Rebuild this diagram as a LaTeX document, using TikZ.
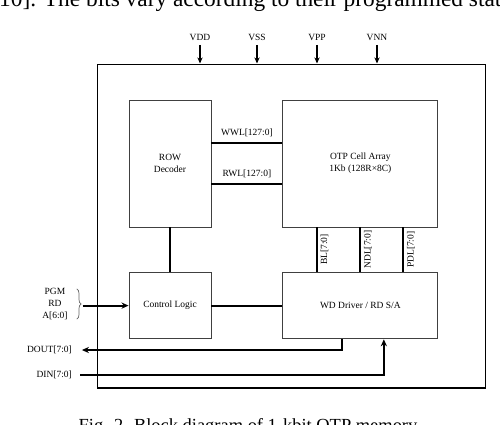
\documentclass[tikz,border=0pt]{standalone}
\usepackage{fontspec}
\setmainfont{Liberation Serif}
\usetikzlibrary{arrows.meta,positioning,calc,decorations.pathreplacing}

\newcommand{\blockfont}{\fontsize{5.4}{6.8}\selectfont}
\newcommand{\pagefont}{\fontsize{10.5}{12}\selectfont}
\newcommand{\bodyfont}{\fontsize{13.3}{16}\selectfont}

\begin{document}
\begin{tikzpicture}[x=0.02cm, y=-0.02cm,
			chip/.style={rectangle, draw, line width=0.6pt, minimum width=7.76cm, minimum height=6.48cm},
			block/.style={rectangle, draw=black!75, line width=0.5pt, minimum height=2.54cm, align=center, font=\blockfont},
			ctlblock/.style={rectangle, draw=black!75, line width=0.5pt, minimum height=1.33cm, align=center, font=\blockfont},
			pin/.style={font=\blockfont, inner sep=1pt},
			bus/.style={line width=1.2pt},
			supply/.style={line width=0.7pt, -{Stealth[length=3.5pt,width=3pt]}},
			tip/.style={-{Stealth[length=4pt,width=3.5pt]}},
			brace/.style={draw=black!60, line width=0.4pt, decorate, decoration={brace, amplitude=2.5pt}}
		]
		\useasboundingbox (0,0) rectangle (500,424);
		\clip (0,0) rectangle (500,424);

		% page text
		\node[anchor=base west, font=\bodyfont, inner sep=0pt] (prev) at (-9,6) {[10]. The bits vary according to their programmed states.};
		\node[anchor=base, font=\pagefont, inner sep=0pt] (cap) at (248,431) {Fig. 2. Block diagram of 1-kbit OTP memory};

		% chip outline
		\node[chip] (chip) at (291.5,226) {};

		% blocks
		\node[block, minimum width=1.64cm] (row) at (170,163.5) {ROW\\Decoder};
		\node[block, minimum width=3.1cm, right=1.42cm of row] (otp) {OTP Cell Array\\1Kb (128R×8C)};
		\node[ctlblock, minimum width=1.64cm, below=0.89cm of row] (ctrl) {Control Logic};
		\node[ctlblock, minimum width=3.1cm, below=0.89cm of otp] (wd) {WD Driver / RD S/A};

		% supplies
		\foreach \px/\name in {200/VDD, 257/VSS, 317/VPP, 377/VNN} {
			\node[pin] (\name) at (\px,37) {\name};
			\draw[supply, shorten <=1.5pt] (\name.south) -- (\name.south |- chip.north);
		}

		% word lines
		\path (row.north east) ++(0,43) coordinate (wwl);
		\path (row.north east) ++(0,84) coordinate (rwl);
		\draw[bus] (wwl) -- (wwl -| otp.west) node[pin, midway, above=1.5pt] {WWL[127:0]};
		\draw[bus] (rwl) -- (rwl -| otp.west) node[pin, midway, above=1.5pt] {RWL[127:0]};

		% bit lines
		\foreach \dx/\lab in {-43.5/BL[7:0], 0/NDL[7:0], 43/PDL[7:0]} {
			\draw[bus] ($(otp.south)+(\dx,0)$) -- ($(wd.north)+(\dx,0)$)
				node[pin, midway, anchor=north, rotate=90, yshift=-0.5pt] {\lab};
		}

		% control
		\draw[bus] (row) -- (ctrl);
		\draw[bus] (ctrl) -- (wd);

		% inputs
		\node[pin, align=center] (ins) at (55,304) {PGM\\RD\\A[6:0]};
		\draw[brace] ([xshift=4pt, yshift=-1.5pt]ins.north east) -- ([xshift=4pt, yshift=1.5pt]ins.south east);
		\draw[bus, tip] (ctrl.west) ++(-46,0) -- (ctrl.west);

		% data
		\node[pin, anchor=east] (dout) at (74,350) {DOUT[7:0]};
		\node[pin, anchor=east] (din) at (74,375) {DIN[7:0]};
		\draw[bus, tip] ($(wd.south)+(-18.5,0)$) |- ([xshift=4.5pt]dout.east);
		\draw[bus, tip] ([xshift=3.5pt]din.east) -| ($(wd.south)+(23.5,0)$);

	\end{tikzpicture}
\end{document}
